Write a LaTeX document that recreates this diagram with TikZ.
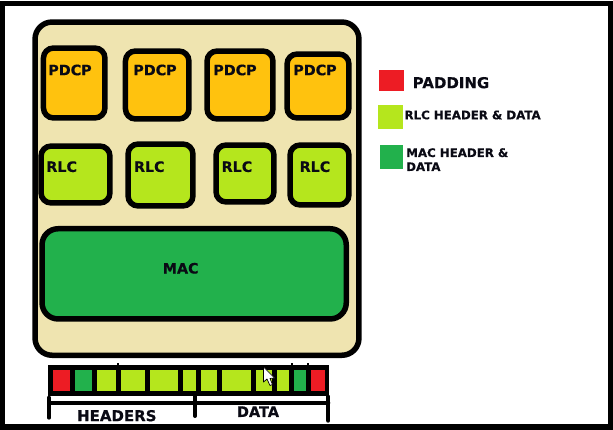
\documentclass[tikz,border=0pt]{standalone}
\usepackage{fontspec}
\setmainfont{DejaVu Sans}[BoldFeatures={FakeBold=0.4}]
\definecolor{beige}{HTML}{EFE4B0}
\definecolor{orangeb}{HTML}{FFC20E}
\definecolor{limeb}{HTML}{B5E61D}
\definecolor{greenb}{HTML}{22B14C}
\definecolor{redb}{HTML}{ED1C24}
\definecolor{inkb}{HTML}{0A0A14}
\tikzset{
  boxbase/.style={draw=black,line width=5.5pt,rounded corners=10pt,inner sep=0pt,outer sep=0pt},
  outerbox/.style={boxbase,fill=beige,rounded corners=17pt},
  pdcpbox/.style={boxbase,fill=orangeb},
  rlcbox/.style={boxbase,fill=limeb},
  macbox/.style={boxbase,fill=greenb,rounded corners=16pt},
  cellbar/.style={fill=black,inner sep=0pt,outer sep=0pt},
  cellr/.style={fill=redb,inner sep=0pt,outer sep=0pt},
  cellg/.style={fill=greenb,inner sep=0pt,outer sep=0pt},
  celll/.style={fill=limeb,inner sep=0pt,outer sep=0pt},
  swatch/.style={inner sep=0pt,outer sep=0pt},
  lab/.style={font=\fontsize{14.3}{14.3}\selectfont\bfseries,inner sep=0pt,text=inkb},
  bigtxt/.style={font=\fontsize{15}{15}\selectfont\bfseries,inner sep=0pt,text=inkb},
  smalltxt/.style={font=\fontsize{11.8}{14}\selectfont\bfseries,inner sep=0pt,text=inkb},
  bracket/.style={draw=black,line width=4pt,line cap=round},
}
% stroked box: name, style, outer x0 y0 x1 y1
\newcommand{\strokedbox}[6]{\node[#2,minimum width={(#5)-(#3)-5.5},minimum height={(#6)-(#4)-5.5}] (#1) at ({((#3)+(#5))/2},{((#4)+(#6))/2}) {};}
% flat box: name, style, x0 y0 x1 y1
\newcommand{\flatbox}[6]{\node[#2,minimum width={(#5)-(#3)},minimum height={(#6)-(#4)}] (#1) at ({((#3)+(#5))/2},{((#4)+(#6))/2}) {};}
\begin{document}
\begin{tikzpicture}[x=1pt,y=-1pt]
\useasboundingbox (0,0) rectangle (613,430);
\fill[white] (0,0) rectangle (613,430);
% image frame
\flatbox{frameT}{cellbar}{0}{1}{613}{6}
\flatbox{frameL}{cellbar}{0}{1}{4.5}{430}
\flatbox{frameR}{cellbar}{608}{1}{613}{430}
\flatbox{frameB}{cellbar}{0}{424}{613}{430}
% container
\strokedbox{outer}{outerbox}{32.3}{19.3}{361.7}{358}
% PDCP
\strokedbox{p1}{pdcpbox}{40.7}{45.3}{107.7}{120.7}
\strokedbox{p2}{pdcpbox}{122.7}{48.3}{191.7}{121.7}
\strokedbox{p3}{pdcpbox}{204.3}{48.3}{275.7}{121.7}
\strokedbox{p4}{pdcpbox}{284.3}{51.3}{351.7}{120.7}
\node[lab] (pt1) at (70,70) {PDCP};
\node[lab] (pt2) at (155,70) {PDCP};
\node[lab] (pt3) at (235,70) {PDCP};
\node[lab] (pt4) at (315,70) {PDCP};
% RLC
\strokedbox{r1}{rlcbox}{38.3}{143.3}{112.7}{205.7}
\strokedbox{r2}{rlcbox}{125.3}{141.3}{195.7}{208.7}
\strokedbox{r3}{rlcbox}{213.3}{142.3}{276.7}{204.7}
\strokedbox{r4}{rlcbox}{287.3}{142.3}{351.7}{207.7}
\node[lab] (rt1) at (61.7,166.7) {RLC};
\node[lab] (rt2) at (149.3,166.7) {RLC};
\node[lab] (rt3) at (237,166.7) {RLC};
\node[lab] (rt4) at (315,166.7) {RLC};
% MAC
\strokedbox{m}{macbox}{39.3}{226}{349}{321.7}
\node[lab] (mt) at (180.7,268.3) {MAC};
% bar
\flatbox{bar}{cellbar}{48.3}{365}{329.3}{395.7}
\flatbox{t1}{cellbar}{117}{363}{119}{366}
\flatbox{t2}{cellbar}{291}{363}{293}{366}
\flatbox{t3}{cellbar}{307}{363}{309}{366}
\flatbox{c1}{cellr}{52.7}{370}{70}{390.7}
\flatbox{c2}{cellg}{75}{370}{92}{390.7}
\flatbox{c3}{celll}{97}{370}{115.7}{390.7}
\flatbox{c4}{celll}{121}{370}{145}{390.7}
\flatbox{c5}{celll}{150}{370}{178}{390.7}
\flatbox{c6}{celll}{183.3}{370}{195.7}{390.7}
\flatbox{c7}{celll}{201}{370}{216.7}{390.7}
\flatbox{c8}{celll}{222}{370}{250.7}{390.7}
\flatbox{c9}{celll}{256}{370}{271.7}{390.7}
\flatbox{c10}{celll}{277.3}{370}{288.7}{390.7}
\flatbox{c11}{cellg}{294}{370}{306.3}{390.7}
\flatbox{c12}{cellr}{311}{370}{325}{390.7}
% mouse cursor
\draw[fill=white,draw=black,line width=0.7pt,line join=round] (263.5,367) -- (263.5,382) -- (267,379) -- (270,385.5) -- (272.5,384.5) -- (270,378.5) -- (274.5,378) -- cycle;
% brackets
\coordinate (bL) at (49,402.7);
\coordinate (bM) at (195,402.7);
\coordinate (bR) at (328.3,402.7);
\draw[bracket] (bL) -- (bR);
\draw[bracket] (49,397.7) -- (49,417.7);
\draw[bracket] (195,396.7) -- (195,416);
\draw[bracket] (328.3,396.7) -- (328.3,420.7);
\node[bigtxt] (hd) at (116.8,415.7) {HEADERS};
\node[font=\fontsize{14.5}{14.5}\selectfont\bfseries,inner sep=0pt,text=inkb] (dt) at (258,411.7) {DATA};
% legend
\flatbox{lr}{swatch,fill=redb}{379}{70}{404}{91}
\flatbox{ll}{swatch,fill=limeb}{378}{105}{403}{129}
\flatbox{lg}{swatch,fill=greenb}{380}{145}{403.3}{169}
\node[bigtxt,anchor=center] (lt1) at (451,82.7) {PADDING};
\node[smalltxt,anchor=west] (lt2) at (404.3,115) {RLC HEADER \& DATA};
\node[smalltxt,anchor=west] (lt3) at (406,152.7) {MAC HEADER \&};
\node[smalltxt,anchor=west] (lt4) at (406,166.7) {DATA};
\end{tikzpicture}
\end{document}
